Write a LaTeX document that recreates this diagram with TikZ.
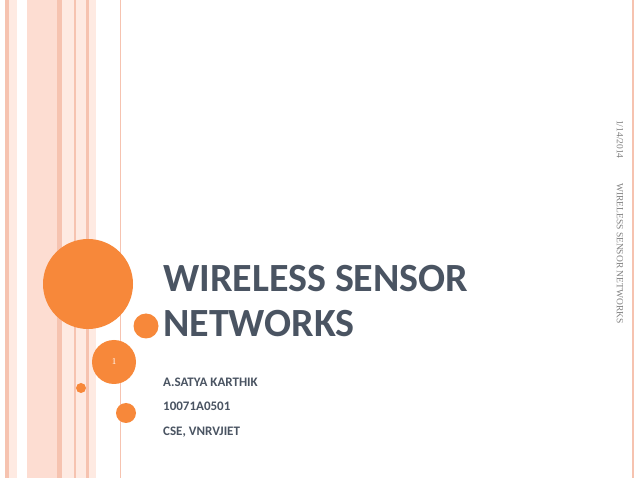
\documentclass[tikz,border=0pt]{standalone}
\usepackage{fontspec}
\setmainfont{Carlito}
\newfontfamily\serifx{Liberation Serif}
\definecolor{org}{HTML}{F7883A}
\definecolor{ttl}{HTML}{4A5462}
\definecolor{pk}{HTML}{FDDDD2}
\definecolor{pkd}{HTML}{F6C3B0}
\definecolor{pkl}{HTML}{FEEAE2}
\begin{document}
\begin{tikzpicture}[x=1pt,y=-1pt,
  dot/.style={fill=org,draw=none},
  sub/.style={anchor=base west,font=\bfseries\fontsize{13}{15}\selectfont,text=ttl,inner sep=0}]
\useasboundingbox (0,0) rectangle (638,478);
\fill[white] (0,0) rectangle (638,478);
\fill[pkd] (5,0) rectangle (9,478);
\fill[pkl] (9,0) rectangle (17,478);
\fill[pk] (27,0) rectangle (57,478);
\fill[pkd] (57,0) rectangle (62,478);
\fill[pkl] (62,0) rectangle (74,478);
\fill[pkd] (74,0) rectangle (76,478);
\fill[pkl] (76,0) rectangle (86,478);
\fill[pkd] (86,0) rectangle (89,478);
\fill[pkl] (89,0) rectangle (96,478);
\fill[pkd] (119.5,0) rectangle (121,478);
\fill[pkd] (632,0) rectangle (634,478);
\fill[dot] (88,284) circle (45);
\fill[dot] (146,326) circle (12.5);
\fill[dot] (114,362) circle (22);
\fill[dot] (81,388) circle (5);
\fill[dot] (126,413) circle (10);
\node[text=white,font=\serifx\fontsize{9}{10}\selectfont] (num) at (114,362) {1};
\node[anchor=base west,font=\bfseries\fontsize{40}{44}\selectfont,text=ttl,inner sep=0] (t1) at (163,292) {WIRELESS SENSOR};
\node[anchor=base west,font=\bfseries\fontsize{40}{44}\selectfont,text=ttl,inner sep=0] (t2) at (163,337) {NETWORKS};
\node[sub] (s1) at (163,387) {A.SATYA KARTHIK};
\node[sub] (s2) at (163,411) {10071A0501};
\node[sub] (s3) at (163,436) {CSE, VNRVJIET};
\node[rotate=-90,anchor=west,text=gray,font=\serifx\fontsize{9.5}{10}\selectfont,inner sep=0] (d) at (620,120) {1/14/2014};
\node[rotate=-90,anchor=west,text=gray,font=\serifx\fontsize{9.5}{10}\selectfont,inner sep=0] (f) at (620,183) {WIRELESS SENSOR NETWORKS};
\end{tikzpicture}
\end{document}
